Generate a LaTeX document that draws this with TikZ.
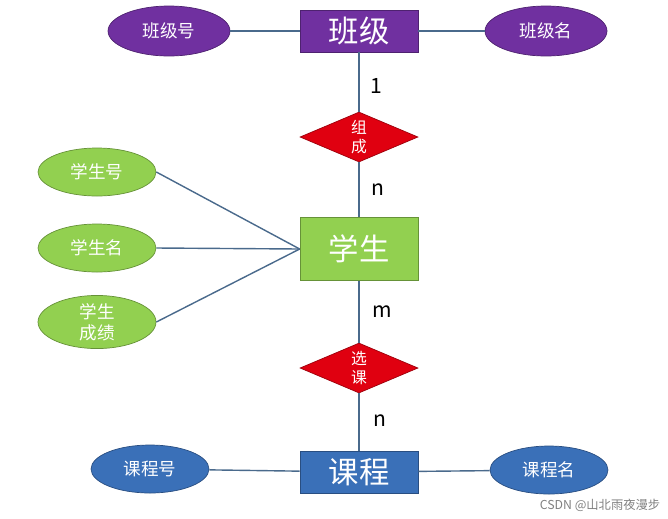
\documentclass[tikz,border=0pt]{standalone}
\usepackage{fontspec}
\setmainfont{Noto Sans CJK SC}
\usetikzlibrary{shapes.geometric}
\definecolor{pur}{HTML}{7030A0}
\definecolor{grn}{HTML}{92D050}
\definecolor{blu}{HTML}{3A70B8}
\definecolor{red1}{HTML}{E00010}
\definecolor{ln}{HTML}{4A6A8C}
\begin{document}
\begin{tikzpicture}[x=0.02cm,y=-0.02cm,
 ent/.style={draw=#1!70!black,fill=#1,minimum width=2.36cm,text=white,font=\LARGE},
 att/.style={ellipse,draw=#1!70!black,fill=#1,minimum width=2.36cm,minimum height=0.96cm,text=white,inner sep=0pt,align=center},
 rel/.style={diamond,draw=red1!70!black,fill=red1,minimum width=2.36cm,minimum height=1cm,aspect=2.4,inner sep=0pt,text=white,align=center,font=\small},
 lab/.style={font=\large},
 con/.style={draw=ln,line width=0.8pt}]
\useasboundingbox (0,0) rectangle (668,518);
\node[ent=pur,minimum height=0.84cm] (bj) at (359,31) {班级};
\node[att=pur,minimum width=2.44cm,minimum height=1cm] (bjh) at (169,31) {班级号};
\node[att=pur,minimum width=2.44cm,minimum height=1cm] (bjm) at (546,31) {班级名};
\node[rel] (zc) at (359,137) {组\\成};
\node[ent=grn,minimum height=1.26cm] (xs) at (359,249) {学生};
\node[att=grn] (xsh) at (97,172) {学生号};
\node[att=grn] (xsm) at (97,248) {学生名};
\node[att=grn,minimum height=1.04cm] (xscj) at (97,322) {学生\\成绩};
\node[rel] (xk) at (359,368) {选\\课};
\node[ent=blu,minimum height=0.84cm] (kc) at (359,472) {课程};
\node[att=blu] (kch) at (150,469) {课程号};
\node[att=blu] (kcm) at (549,470) {课程名};
\draw[con] (bjh) -- (bj) -- (bjm);
\draw[con] (bj) -- (zc) -- (xs) -- (xk) -- (kc);
\draw[con] (kch) -- (kc) -- (kcm);
\draw[con] (xsh.east) -- (xs.west);
\draw[con] (xsm.east) -- (xs.west);
\draw[con] (xscj.east) -- (xs.west);
\node[lab] (l1) at (376,86) {1};
\node[lab] (l2) at (378,190) {n};
\node[lab] (l3) at (382,312) {m};
\node[lab] (l4) at (380,421) {n};
\node[text=gray,font=\scriptsize] (wm) at (600,505) {CSDN @山北雨夜漫步};
\end{tikzpicture}
\end{document}
